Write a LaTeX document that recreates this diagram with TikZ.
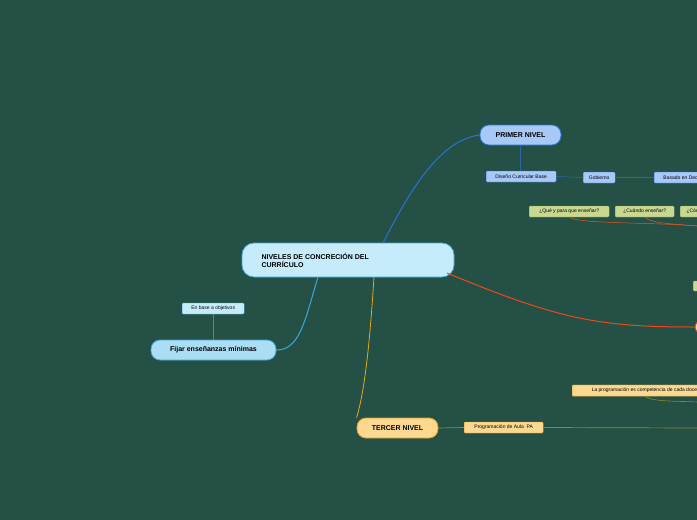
\documentclass[tikz,border=0pt]{standalone}
\usepackage{fontspec}
\setmainfont{Liberation Sans}
\begin{document}
\begin{tikzpicture}[x=1pt,y=-1pt,
  main/.style={draw=#1,line width=0.8pt,rounded corners=9pt,font=\bfseries\fontsize{7}{8}\selectfont,align=center,inner sep=0pt},
  sub/.style={draw=#1,line width=0.4pt,rounded corners=1pt,font=\fontsize{5}{6}\selectfont,inner sep=0pt,anchor=west}]
\definecolor{bg}{HTML}{245045}
\definecolor{lb}{HTML}{A8C8F8}\definecolor{lbd}{HTML}{3070D0}
\definecolor{cy}{HTML}{C6ECFC}\definecolor{cyd}{HTML}{40A8D8}
\definecolor{ye}{HTML}{FCD890}\definecolor{yed}{HTML}{E0A020}
\definecolor{gr}{HTML}{C8D890}\definecolor{org}{HTML}{F04818}
\fill[bg] (0,0) rectangle (697,520);
\clip (0,0) rectangle (697,520);
\useasboundingbox (0,0) rectangle (697,520);
% nodes
\node[main=cyd,fill=cy,minimum width=212pt,minimum height=34pt,rounded corners=12pt] (c) at (348,260) {};
\node[font=\bfseries\fontsize{7}{8}\selectfont,align=left,anchor=west] (ct) at (258,260) {NIVELES DE CONCRECIÓN DEL\\CURRÍCULO};
\node[main=lbd,fill=lb,minimum width=81pt,minimum height=20pt] (p) at (520.5,135) {PRIMER NIVEL};
\node[main=cyd,fill=cy!80!cyd,minimum width=125pt,minimum height=20pt] (f) at (213.5,350) {Fijar enseñanzas mínimas};
\node[main=yed,fill=ye,minimum width=81pt,minimum height=20pt] (t) at (397.5,428) {TERCER NIVEL};
\node[main=org,fill=ye,minimum width=40pt,minimum height=16pt] (o) at (715,327) {};
\node[sub=lbd,fill=lb,minimum width=70pt,minimum height=11pt] (d) at (486,176.5) {\hfil Diseño Curricular Base\hfil};
\node[sub=lbd,fill=lb,minimum width=32pt,minimum height=11pt] (g) at (583,177.5) {\hfil Gobierno\hfil};
\node[sub=lbd,fill=lb,minimum width=60pt,minimum height=11pt] (b) at (654,177.5) {\ Basado en Decreto};
\node[sub=gr!70!black,fill=gr,minimum width=80pt,minimum height=11pt] (q1) at (529,211.5) {\hfil ¿Qué y para que enseñar?\hfil};
\node[sub=gr!70!black,fill=gr,minimum width=59pt,minimum height=11pt] (q2) at (615,211.5) {\hfil ¿Cuándo enseñar?\hfil};
\node[sub=gr!70!black,fill=gr,minimum width=50pt,minimum height=11pt] (q3) at (680,211.5) {\ ¿Cómo enseñar?};
\node[sub=gr!70!black,fill=gr,minimum width=20pt,minimum height=10pt] (q4) at (693,286) {};
\node[sub=yed,fill=ye,minimum width=150pt,minimum height=11pt] (lp) at (572,390.5) {\ La programación es competencia de cada docente};
\node[sub=yed,fill=ye,minimum width=79pt,minimum height=11pt] (pa) at (464,427.5) {\hfil Programación de Aula\ \ PA\hfil};
\node[sub=cyd,fill=cy,minimum width=62pt,minimum height=11pt] (e) at (182,308.5) {\hfil En base a objetivos\hfil};
\coordinate (r1) at (697,428);
\coordinate (r2) at (697,402);
\coordinate (r3) at (697,226);
% connectors
\begin{scope}[on background layer/.try]
\end{scope}
\draw[lbd,line width=1pt] (383,243) .. controls (410,190) and (440,140) .. (p.west);
\draw[cyd,line width=1pt] (318,277) .. controls (305,320) and (300,350) .. (f.east);
\draw[yed!90!yellow,line width=0.8pt] (374,277) .. controls (370,340) and (365,390) .. (t.north west);
\draw[org,line width=1pt] (447,273) .. controls (560,320) and (600,327) .. (o.west);
\draw[lbd!70!bg,line width=0.7pt] (p.south) -- (d.north -| p.south);
\draw[lbd!70!bg,line width=0.6pt] (d.east) -- (g.west);
\draw[lbd!70!bg,line width=0.6pt] (g.east) -- (b.west);
\draw[cyd!70!bg,line width=0.6pt] (e.south) -- (f.north -| e.south);
\draw[olive!80!yellow!70!bg,line width=0.7pt] (t.east) -- (pa.west);
\draw[olive!80!yellow!70!bg,line width=0.7pt] (pa.east) -- (r1);
\draw[olive!80!yellow!70!bg,line width=0.6pt] (645,396) .. controls (650,402) and (680,401) .. (r2);
\draw[org!70!brown,line width=0.5pt] (570,217) .. controls (575,224) and (650,222) .. (r3);
\draw[org!70!brown,line width=0.5pt] (645,217) .. controls (650,224) and (680,224) .. (r3);
% redraw nodes on top
\node[sub=yed,fill=ye,minimum width=150pt,minimum height=11pt] at (572,390.5) {\ La programación es competencia de cada docente};
\end{tikzpicture}
\end{document}
